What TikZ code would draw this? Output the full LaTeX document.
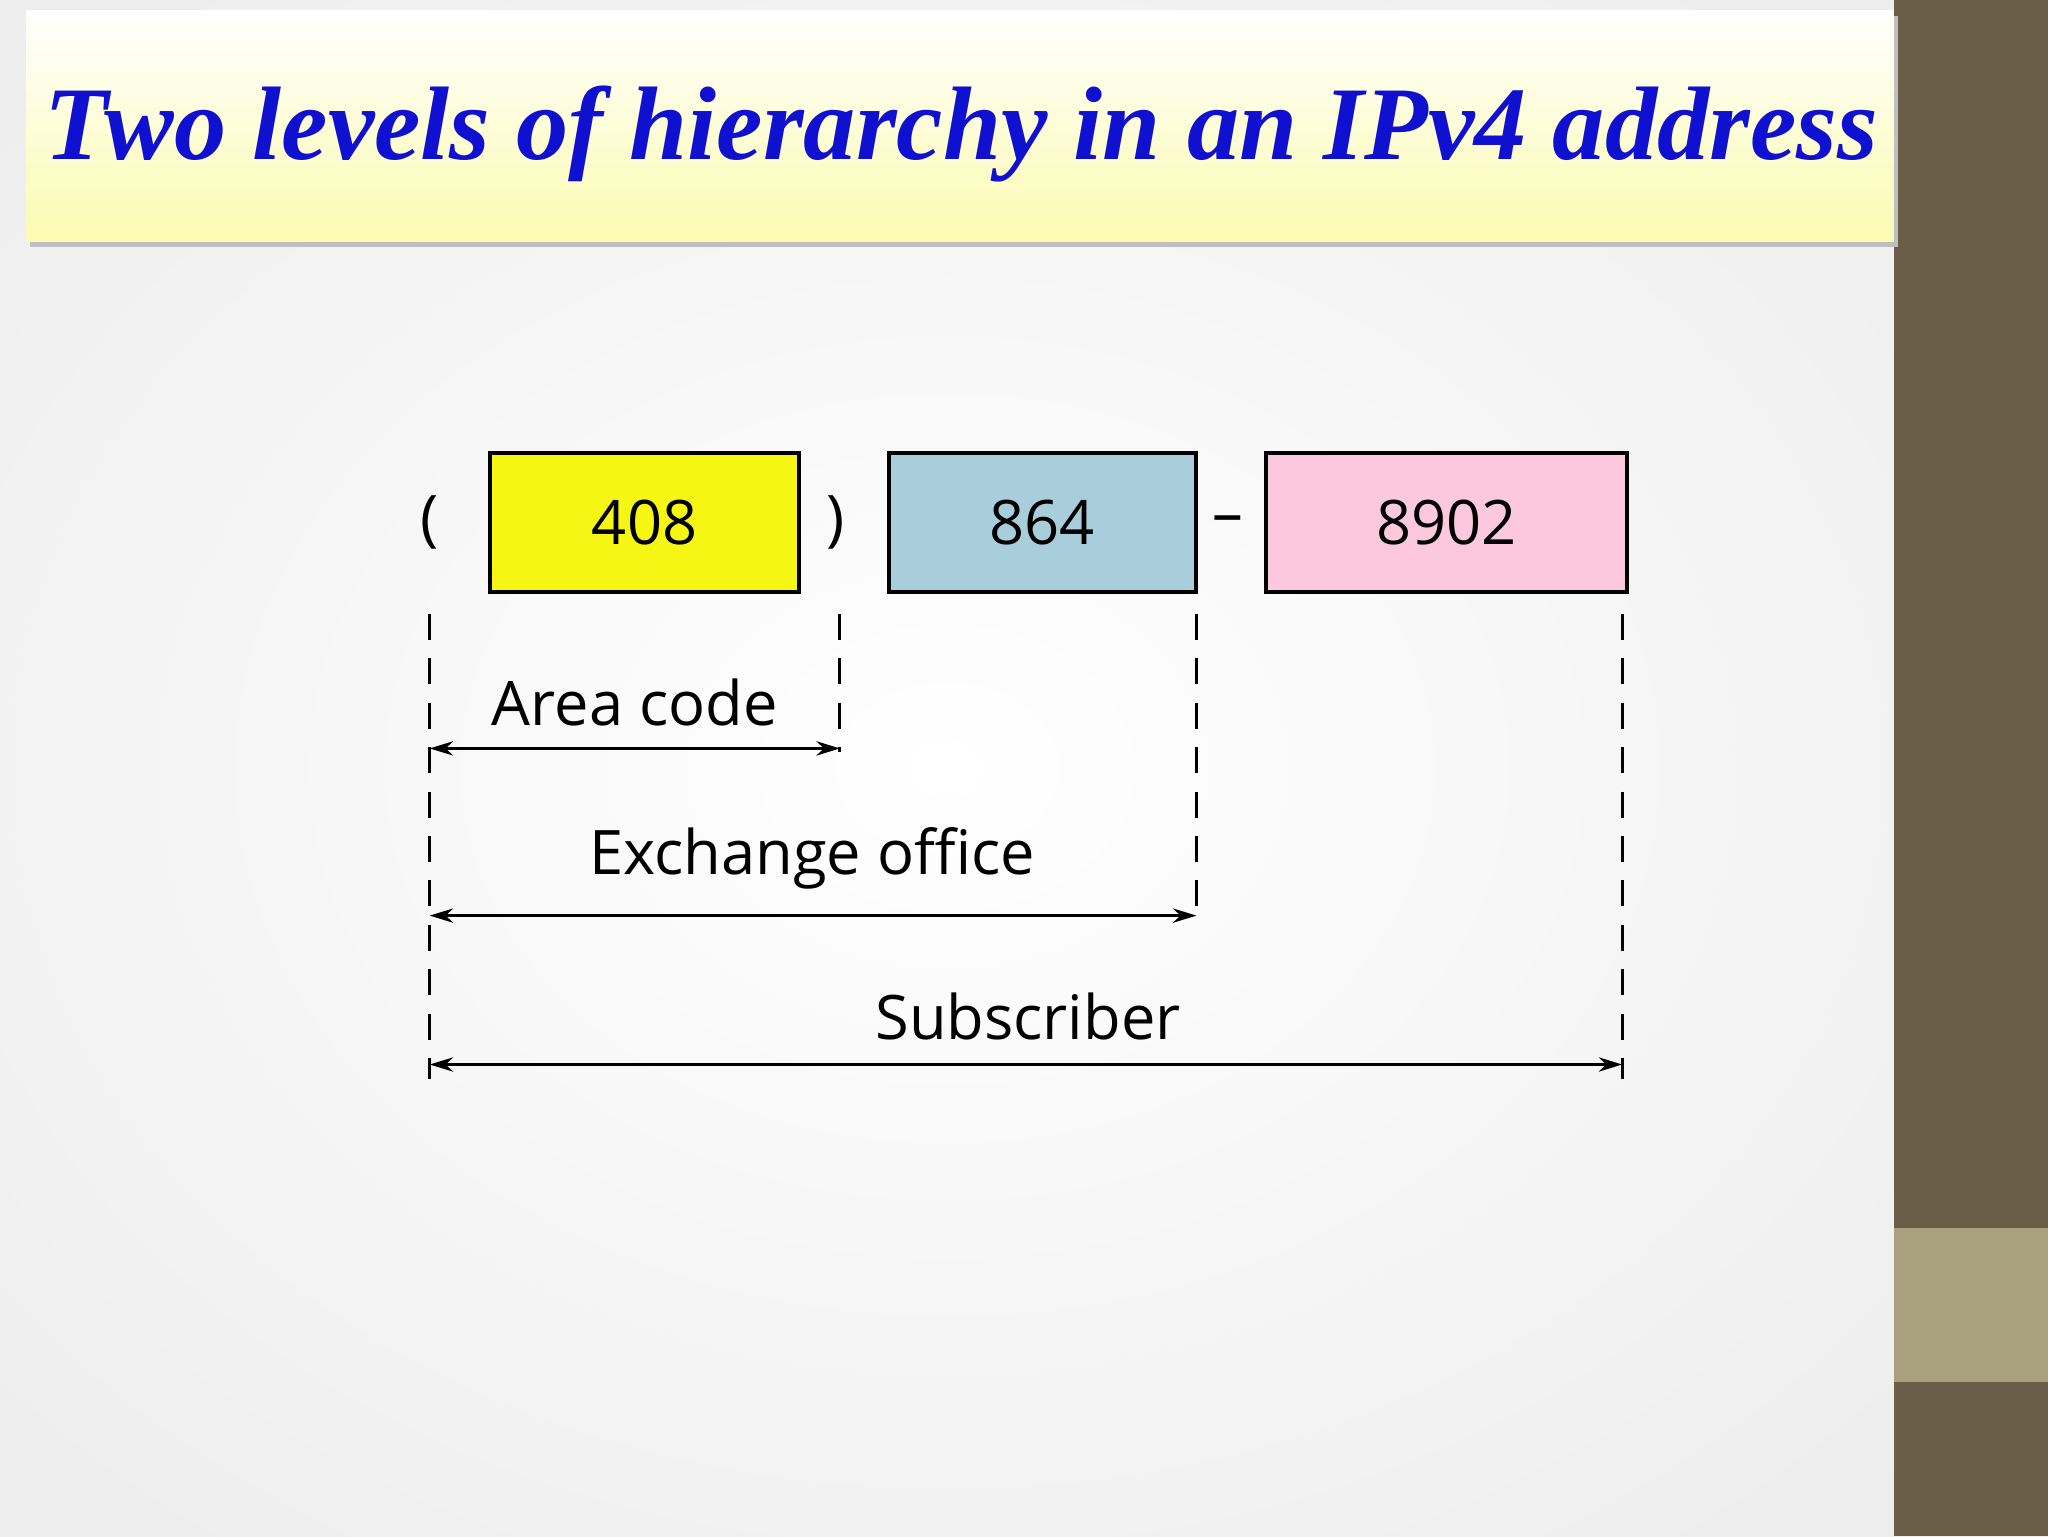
\documentclass[tikz,border=0pt]{standalone}
\usepackage{fontspec}
\setmainfont{Liberation Serif}
\newfontfamily\lab{Open Sans}
\usetikzlibrary{arrows.meta}
\definecolor{olive}{HTML}{6B5E48}
\definecolor{lolive}{HTML}{A9A07E}
\definecolor{titlebg}{HTML}{FAFAD0}
\definecolor{tblue}{HTML}{1010D0}
\definecolor{byel}{HTML}{F6F614}
\definecolor{bblue}{HTML}{A8CEDC}
\definecolor{bpink}{HTML}{FCC8DE}
\tikzset{
  box/.style={draw=black, line width=3pt, inner sep=0pt},
  lbl/.style={font=\lab\fontsize{47}{54}\selectfont, inner sep=0pt},
  dim/.style={line width=2pt, {Stealth[length=18pt,width=11pt]}-{Stealth[length=18pt,width=11pt]}},
  guide/.style={line width=2.4pt, dash pattern=on 20pt off 14pt}
}
\begin{document}
\begin{tikzpicture}[x=1pt,y=-1pt]
\useasboundingbox (0,0) rectangle (1568,1176);
\fill[white] (0,0) rectangle (1450,1176);
\shade[inner color=white, outer color=gray!14] (-300,-200) rectangle (1750,1376);
\fill[olive] (1450,0) rectangle (1568,1176);
\fill[lolive] (1450,940) rectangle (1568,1058);
\fill[gray!50] (23,12) rectangle (1453,189);
\shade[top color=white, bottom color=titlebg!85!yellow] (20,8) rectangle (1450,185);
\node[font=\bfseries\itshape\fontsize{80}{92}\selectfont, text=tblue, anchor=base] (title) at (736,122) {Two levels of hierarchy in an IPv4 address};
% boxes
\node[box, fill=byel, minimum width=236pt, minimum height=107pt, anchor=north west] (b1) at (374,345) {};
\node[box, fill=bblue, minimum width=235pt, minimum height=107pt, anchor=north west] (b2) at (679,345) {};
\node[box, fill=bpink, minimum width=276pt, minimum height=107pt, anchor=north west] (b3) at (968,345) {};
\node[lbl] (t1) at (b1) {408};
\node[lbl] (t2) at (b2) {864};
\node[lbl] (t3) at (b3) {8902};
\node[lbl] (lp) at (329,400) {(};
\node[lbl] (rp) at (640,400) {)};
\node[lbl] (da) at (940,402) {\textendash};
% guides
\coordinate (g1t) at (329,470); \coordinate (g1b) at (329,826);
\coordinate (g2t) at (643,470); \coordinate (g2b) at (643,576);
\coordinate (g3t) at (916,470); \coordinate (g3b) at (916,704);
\coordinate (g4t) at (1242,470); \coordinate (g4b) at (1242,826);
\draw[guide] (g1t) -- (g1b);
\draw[guide] (g2t) -- (g2b);
\draw[guide] (g3t) -- (g3b);
\draw[guide] (g4t) -- (g4b);
\coordinate (a1) at (329,573); \coordinate (a2) at (643,573);
\coordinate (e1) at (329,701); \coordinate (e2) at (916,701);
\coordinate (s1) at (329,815); \coordinate (s2) at (1242,815);
\draw[dim] (a1) -- (a2);
\draw[dim] (e1) -- (e2);
\draw[dim] (s1) -- (s2);
\node[lbl] (la) at (486,538) {Area code};
\node[lbl] (le) at (622,657) {Exchange office};
\node[lbl] (ls) at (787,778) {Subscriber};
\end{tikzpicture}
\end{document}
